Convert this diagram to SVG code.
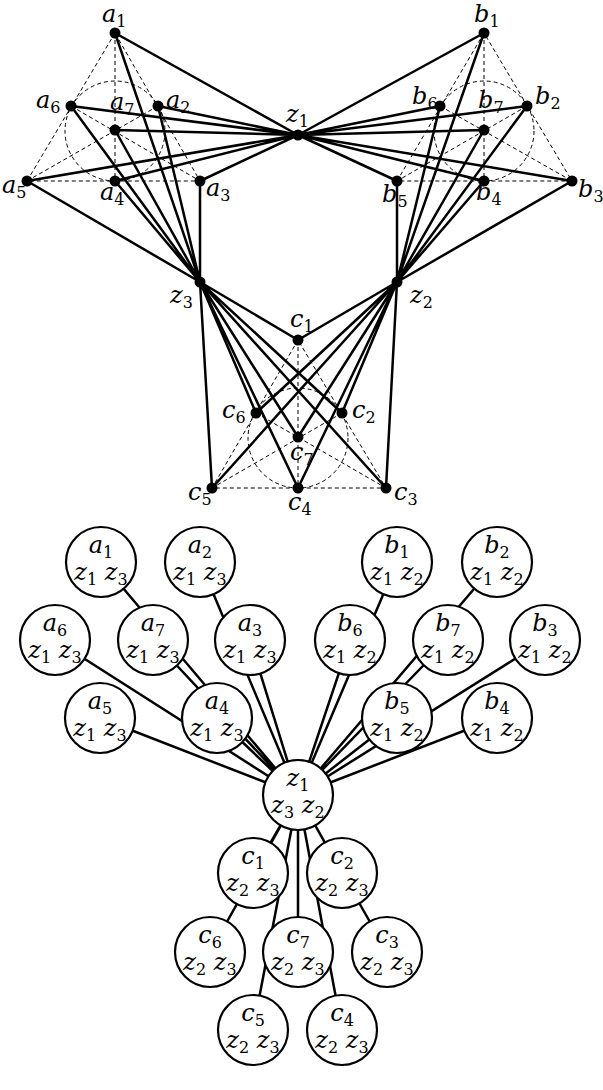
<svg xmlns="http://www.w3.org/2000/svg" width="603" height="1090" viewBox="0 0 603 1090">
<style>
.d{fill:none;stroke:#000;stroke-width:1;stroke-dasharray:4,3}
.e{stroke:#000;stroke-width:2.5;fill:none}
.n{fill:#000}
.s{font-size:16px;font-style:normal}
.c{fill:#fff;stroke:#000;stroke-width:2.2}
</style>
<rect width="603" height="1090" fill="#fff"/>
<g id="scaffold">
<path class="d" d="M115,33 L27,181 L200,181 Z M115,33 L115,181 M71,106 L200,181 M158,106 L27,181"/>
<circle class="d" cx="115" cy="131" r="50"/>
<path class="d" d="M484,33 L397,181 L572,181 Z M484,33 L484,181 M440,106 L572,181 M527,106 L397,181"/>
<circle class="d" cx="484" cy="131" r="50"/>
<path class="d" d="M298,340 L212,488 L386,488 Z M298,340 L298,488 M256,413 L386,488 M342,413 L212,488"/>
<circle class="d" cx="298" cy="438" r="50"/>
</g>
<g id="connectors">
<path class="e" d="M298,135 L115,33 M298,135 L71,106 M298,135 L158,106 M298,135 L115,130 M298,135 L27,181 M298,135 L115,181 M298,135 L200,181
M298,135 L484,33 M298,135 L440,106 M298,135 L527,106 M298,135 L484,130 M298,135 L397,181 M298,135 L484,181 M298,135 L572,181
M200,282 L115,33 M200,282 L71,106 M200,282 L158,106 M200,282 L115,130 M200,282 L27,181 M200,282 L115,181 M200,282 L200,181
M397,282 L484,33 M397,282 L440,106 M397,282 L527,106 M397,282 L484,130 M397,282 L397,181 M397,282 L484,181 M397,282 L572,181
M200,282 L298,340 M200,282 L256,413 M200,282 L342,413 M200,282 L298,437 M200,282 L212,488 M200,282 L298,488 M200,282 L386,488
M397,282 L298,340 M397,282 L256,413 M397,282 L342,413 M397,282 L298,437 M397,282 L212,488 M397,282 L298,488 M397,282 L386,488"/>
<path class="e" stroke-width="3" d="M298,795 L101,562 M298,795 L200,562 M298,795 L55,640 M298,795 L153,640 M298,795 L250,640 M298,795 L100,718 M298,795 L217,718
M298,795 L397,562 M298,795 L497,562 M298,795 L350,640 M298,795 L448,640 M298,795 L545,640 M298,795 L397,718 M298,795 L497,718
M298,795 L253,873 M298,795 L342,873 M298,795 L210,952 M298,795 L298,952 M298,795 L387,952 M298,795 L253,1030 M298,795 L342,1030"/>
</g>
<g id="graph-nodes">
<circle class="n" cx="115" cy="33" r="5.5"/><circle class="n" cx="71" cy="106" r="5.5"/><circle class="n" cx="158" cy="106" r="5.5"/><circle class="n" cx="115" cy="130" r="5.5"/><circle class="n" cx="27" cy="181" r="5.5"/><circle class="n" cx="115" cy="181" r="5.5"/><circle class="n" cx="200" cy="181" r="5.5"/>
<circle class="n" cx="484" cy="33" r="5.5"/><circle class="n" cx="440" cy="106" r="5.5"/><circle class="n" cx="527" cy="106" r="5.5"/><circle class="n" cx="484" cy="130" r="5.5"/><circle class="n" cx="397" cy="181" r="5.5"/><circle class="n" cx="484" cy="181" r="5.5"/><circle class="n" cx="572" cy="181" r="5.5"/>
<circle class="n" cx="298" cy="340" r="5.5"/><circle class="n" cx="256" cy="413" r="5.5"/><circle class="n" cx="342" cy="413" r="5.5"/><circle class="n" cx="298" cy="437" r="5.5"/><circle class="n" cx="212" cy="488" r="5.5"/><circle class="n" cx="298" cy="488" r="5.5"/><circle class="n" cx="386" cy="488" r="5.5"/>
<circle class="n" cx="298" cy="135" r="5.5"/><circle class="n" cx="200" cy="282" r="5.5"/><circle class="n" cx="397" cy="282" r="5.5"/>
</g>
<g font-family="'DejaVu Serif', serif" font-style="italic" font-size="24" fill="#000">
<g id="graph-labels">
<text x="102" y="22">a<tspan class="s" dy="5">1</tspan></text>
<text x="36" y="108">a<tspan class="s" dy="5">6</tspan></text>
<text x="110" y="110">a<tspan class="s" dy="5">7</tspan></text>
<text x="166" y="108">a<tspan class="s" dy="5">2</tspan></text>
<text x="2" y="193">a<tspan class="s" dy="5">5</tspan></text>
<text x="100" y="200">a<tspan class="s" dy="5">4</tspan></text>
<text x="206" y="196">a<tspan class="s" dy="5">3</tspan></text>
<text x="286" y="122">z<tspan class="s" dy="5">1</tspan></text>
<text x="170" y="303">z<tspan class="s" dy="5">3</tspan></text>
<text x="410" y="303">z<tspan class="s" dy="5">2</tspan></text>
<text x="474" y="22">b<tspan class="s" dy="5">1</tspan></text>
<text x="412" y="104">b<tspan class="s" dy="5">6</tspan></text>
<text x="478" y="108">b<tspan class="s" dy="5">7</tspan></text>
<text x="535" y="104">b<tspan class="s" dy="5">2</tspan></text>
<text x="382" y="202">b<tspan class="s" dy="5">5</tspan></text>
<text x="476" y="200">b<tspan class="s" dy="5">4</tspan></text>
<text x="578" y="197">b<tspan class="s" dy="5">3</tspan></text>
<text x="290" y="327">c<tspan class="s" dy="5">1</tspan></text>
<text x="222" y="418">c<tspan class="s" dy="5">6</tspan></text>
<text x="352" y="418">c<tspan class="s" dy="5">2</tspan></text>
<text x="290" y="460">c<tspan class="s" dy="5">7</tspan></text>
<text x="188" y="500">c<tspan class="s" dy="5">5</tspan></text>
<text x="288" y="510">c<tspan class="s" dy="5">4</tspan></text>
<text x="394" y="500">c<tspan class="s" dy="5">3</tspan></text>
</g>
<g id="t-a1"><circle class="c" cx="101" cy="562" r="35"/><text x="101" y="553" text-anchor="middle">a<tspan class="s" dy="5">1</tspan></text><text x="101" y="580" text-anchor="middle">z<tspan class="s" dy="5">1</tspan><tspan dy="-5"> z</tspan><tspan class="s" dy="5">3</tspan></text></g>
<g id="t-a2"><circle class="c" cx="200" cy="562" r="35"/><text x="200" y="553" text-anchor="middle">a<tspan class="s" dy="5">2</tspan></text><text x="200" y="580" text-anchor="middle">z<tspan class="s" dy="5">1</tspan><tspan dy="-5"> z</tspan><tspan class="s" dy="5">3</tspan></text></g>
<g id="t-a6"><circle class="c" cx="55" cy="640" r="35"/><text x="55" y="631" text-anchor="middle">a<tspan class="s" dy="5">6</tspan></text><text x="55" y="658" text-anchor="middle">z<tspan class="s" dy="5">1</tspan><tspan dy="-5"> z</tspan><tspan class="s" dy="5">3</tspan></text></g>
<g id="t-a7"><circle class="c" cx="153" cy="640" r="35"/><text x="153" y="631" text-anchor="middle">a<tspan class="s" dy="5">7</tspan></text><text x="153" y="658" text-anchor="middle">z<tspan class="s" dy="5">1</tspan><tspan dy="-5"> z</tspan><tspan class="s" dy="5">3</tspan></text></g>
<g id="t-a3"><circle class="c" cx="250" cy="640" r="35"/><text x="250" y="631" text-anchor="middle">a<tspan class="s" dy="5">3</tspan></text><text x="250" y="658" text-anchor="middle">z<tspan class="s" dy="5">1</tspan><tspan dy="-5"> z</tspan><tspan class="s" dy="5">3</tspan></text></g>
<g id="t-a5"><circle class="c" cx="100" cy="718" r="35"/><text x="100" y="709" text-anchor="middle">a<tspan class="s" dy="5">5</tspan></text><text x="100" y="736" text-anchor="middle">z<tspan class="s" dy="5">1</tspan><tspan dy="-5"> z</tspan><tspan class="s" dy="5">3</tspan></text></g>
<g id="t-a4"><circle class="c" cx="217" cy="718" r="35"/><text x="217" y="709" text-anchor="middle">a<tspan class="s" dy="5">4</tspan></text><text x="217" y="736" text-anchor="middle">z<tspan class="s" dy="5">1</tspan><tspan dy="-5"> z</tspan><tspan class="s" dy="5">3</tspan></text></g>
<g id="t-b1"><circle class="c" cx="397" cy="562" r="35"/><text x="397" y="553" text-anchor="middle">b<tspan class="s" dy="5">1</tspan></text><text x="397" y="580" text-anchor="middle">z<tspan class="s" dy="5">1</tspan><tspan dy="-5"> z</tspan><tspan class="s" dy="5">2</tspan></text></g>
<g id="t-b2"><circle class="c" cx="497" cy="562" r="35"/><text x="497" y="553" text-anchor="middle">b<tspan class="s" dy="5">2</tspan></text><text x="497" y="580" text-anchor="middle">z<tspan class="s" dy="5">1</tspan><tspan dy="-5"> z</tspan><tspan class="s" dy="5">2</tspan></text></g>
<g id="t-b6"><circle class="c" cx="350" cy="640" r="35"/><text x="350" y="631" text-anchor="middle">b<tspan class="s" dy="5">6</tspan></text><text x="350" y="658" text-anchor="middle">z<tspan class="s" dy="5">1</tspan><tspan dy="-5"> z</tspan><tspan class="s" dy="5">2</tspan></text></g>
<g id="t-b7"><circle class="c" cx="448" cy="640" r="35"/><text x="448" y="631" text-anchor="middle">b<tspan class="s" dy="5">7</tspan></text><text x="448" y="658" text-anchor="middle">z<tspan class="s" dy="5">1</tspan><tspan dy="-5"> z</tspan><tspan class="s" dy="5">2</tspan></text></g>
<g id="t-b3"><circle class="c" cx="545" cy="640" r="35"/><text x="545" y="631" text-anchor="middle">b<tspan class="s" dy="5">3</tspan></text><text x="545" y="658" text-anchor="middle">z<tspan class="s" dy="5">1</tspan><tspan dy="-5"> z</tspan><tspan class="s" dy="5">2</tspan></text></g>
<g id="t-b5"><circle class="c" cx="397" cy="718" r="35"/><text x="397" y="709" text-anchor="middle">b<tspan class="s" dy="5">5</tspan></text><text x="397" y="736" text-anchor="middle">z<tspan class="s" dy="5">1</tspan><tspan dy="-5"> z</tspan><tspan class="s" dy="5">2</tspan></text></g>
<g id="t-b4"><circle class="c" cx="497" cy="718" r="35"/><text x="497" y="709" text-anchor="middle">b<tspan class="s" dy="5">4</tspan></text><text x="497" y="736" text-anchor="middle">z<tspan class="s" dy="5">1</tspan><tspan dy="-5"> z</tspan><tspan class="s" dy="5">2</tspan></text></g>
<g id="t-z"><circle class="c" cx="298" cy="795" r="35" stroke-width="4.5"/><text x="298" y="786" text-anchor="middle">z<tspan class="s" dy="5">1</tspan></text><text x="298" y="813" text-anchor="middle">z<tspan class="s" dy="5">3</tspan><tspan dy="-5"> z</tspan><tspan class="s" dy="5">2</tspan></text></g>
<g id="t-c1"><circle class="c" cx="253" cy="873" r="35"/><text x="253" y="864" text-anchor="middle">c<tspan class="s" dy="5">1</tspan></text><text x="253" y="891" text-anchor="middle">z<tspan class="s" dy="5">2</tspan><tspan dy="-5"> z</tspan><tspan class="s" dy="5">3</tspan></text></g>
<g id="t-c2"><circle class="c" cx="342" cy="873" r="35"/><text x="342" y="864" text-anchor="middle">c<tspan class="s" dy="5">2</tspan></text><text x="342" y="891" text-anchor="middle">z<tspan class="s" dy="5">2</tspan><tspan dy="-5"> z</tspan><tspan class="s" dy="5">3</tspan></text></g>
<g id="t-c6"><circle class="c" cx="210" cy="952" r="35"/><text x="210" y="943" text-anchor="middle">c<tspan class="s" dy="5">6</tspan></text><text x="210" y="970" text-anchor="middle">z<tspan class="s" dy="5">2</tspan><tspan dy="-5"> z</tspan><tspan class="s" dy="5">3</tspan></text></g>
<g id="t-c7"><circle class="c" cx="298" cy="952" r="35"/><text x="298" y="943" text-anchor="middle">c<tspan class="s" dy="5">7</tspan></text><text x="298" y="970" text-anchor="middle">z<tspan class="s" dy="5">2</tspan><tspan dy="-5"> z</tspan><tspan class="s" dy="5">3</tspan></text></g>
<g id="t-c3"><circle class="c" cx="387" cy="952" r="35"/><text x="387" y="943" text-anchor="middle">c<tspan class="s" dy="5">3</tspan></text><text x="387" y="970" text-anchor="middle">z<tspan class="s" dy="5">2</tspan><tspan dy="-5"> z</tspan><tspan class="s" dy="5">3</tspan></text></g>
<g id="t-c5"><circle class="c" cx="253" cy="1030" r="35"/><text x="253" y="1021" text-anchor="middle">c<tspan class="s" dy="5">5</tspan></text><text x="253" y="1048" text-anchor="middle">z<tspan class="s" dy="5">2</tspan><tspan dy="-5"> z</tspan><tspan class="s" dy="5">3</tspan></text></g>
<g id="t-c4"><circle class="c" cx="342" cy="1030" r="35"/><text x="342" y="1021" text-anchor="middle">c<tspan class="s" dy="5">4</tspan></text><text x="342" y="1048" text-anchor="middle">z<tspan class="s" dy="5">2</tspan><tspan dy="-5"> z</tspan><tspan class="s" dy="5">3</tspan></text></g>
</g>
</svg>
